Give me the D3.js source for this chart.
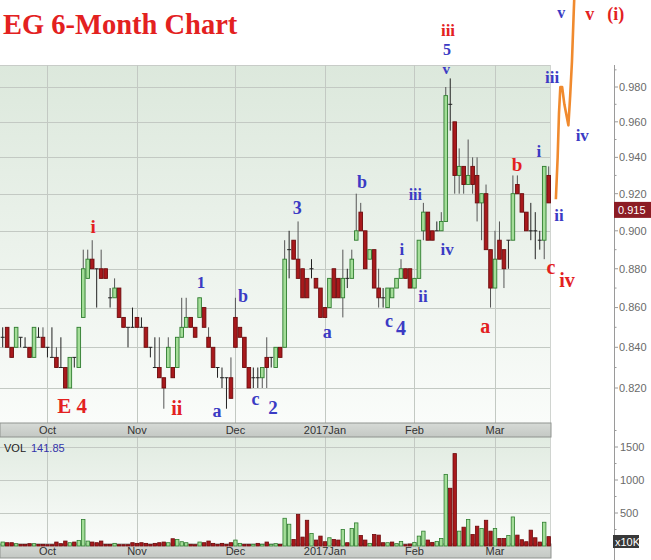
<!DOCTYPE html>
<html><head><meta charset="utf-8">
<script src="https://cdn.jsdelivr.net/npm/d3@7"></script>
<style>body{margin:0;background:#fff;}svg{display:block;}</style>
</head><body>
<svg id="c" width="651" height="560"></svg>
<script>
// ---------------- DATA ----------------
const opens  = [.845,.850,.840,.840,.845,.840,.840,.835,.845,.845,.840,.835,.835,.830,.830,.820,.835,.830,.855,.875,.885,.880,.880,.880,.865,.865,.870,.855,.850,.850,.855,.850,.850,.840,.830,.830,.825,.830,.830,.830,.845,.850,.855,.850,.855,.860,.845,.840,.830,.825,.825,.825,.855,.850,.845,.830,.825,.825,.825,.835,.835,.830,.840,.840,.890,.895,.885,.880,.875,.880,.875,.870,.860,.860,.880,.875,.865,.875,.875,.895,.910,.900,.885,.890,.870,.865,.860,.865,.870,.875,.880,.880,.870,.875,.900,.910,.900,.900,.900,.905,.970,.960,.930,.935,.925,.935,.930,.915,.920,.890,.870,.895,.890,.895,.895,.925,.920,.910,.900,.900,.895,.895,.930];
const highs  = [.850,.850,.840,.850,.845,.845,.840,.850,.850,.850,.840,.850,.840,.845,.830,.835,.835,.850,.890,.890,.895,.880,.890,.880,.870,.875,.870,.855,.850,.860,.855,.855,.850,.840,.845,.845,.825,.845,.830,.845,.865,.865,.855,.850,.865,.860,.850,.840,.830,.830,.825,.835,.865,.850,.845,.830,.830,.830,.830,.845,.835,.840,.840,.895,.900,.895,.905,.880,.875,.885,.875,.870,.860,.875,.880,.875,.890,.880,.890,.920,.915,.900,.890,.890,.880,.870,.870,.870,.875,.885,.880,.880,.875,.895,.915,.910,.900,.905,.910,.980,.985,.960,.945,.935,.950,.940,.940,.920,.925,.890,.900,.905,.890,.895,.930,.930,.920,.910,.915,.910,.900,.935,.935];
const lows   = [.840,.840,.835,.840,.840,.840,.835,.835,.845,.840,.835,.835,.830,.830,.820,.820,.830,.830,.855,.875,.880,.860,.875,.875,.860,.865,.855,.850,.840,.850,.850,.850,.840,.835,.830,.825,.810,.830,.825,.830,.845,.850,.850,.845,.855,.850,.840,.830,.825,.820,.810,.815,.840,.845,.830,.820,.820,.820,.820,.820,.830,.830,.835,.840,.875,.885,.875,.865,.865,.875,.870,.855,.855,.860,.865,.865,.855,.870,.875,.895,.900,.880,.885,.870,.860,.860,.860,.865,.870,.875,.875,.870,.870,.875,.895,.895,.895,.900,.900,.905,.955,.920,.920,.920,.925,.920,.905,.895,.890,.860,.870,.885,.870,.880,.895,.920,.910,.900,.895,.885,.890,.885,.915];
const closes = [.845,.840,.835,.850,.845,.840,.835,.850,.845,.840,.840,.835,.830,.830,.820,.835,.835,.850,.880,.885,.880,.880,.875,.875,.865,.870,.855,.850,.850,.850,.850,.850,.840,.840,.830,.825,.820,.840,.825,.845,.850,.855,.850,.845,.865,.850,.840,.830,.830,.825,.825,.815,.840,.845,.830,.820,.825,.825,.830,.830,.835,.840,.835,.885,.890,.885,.875,.865,.865,.880,.870,.855,.855,.875,.865,.865,.875,.875,.885,.900,.900,.880,.890,.870,.865,.865,.870,.870,.875,.880,.875,.870,.875,.895,.910,.895,.895,.900,.905,.975,.970,.930,.935,.925,.930,.925,.915,.920,.890,.870,.885,.885,.880,.895,.920,.920,.910,.900,.900,.900,.895,.935,.915];
const volumes = [60,50,50,35,25,25,35,35,25,25,20,20,60,35,75,50,60,85,400,75,60,50,75,25,25,40,20,20,20,50,40,50,40,25,40,50,60,50,110,100,65,50,25,20,60,50,75,40,25,40,25,50,90,40,25,25,25,40,25,60,25,35,25,420,330,100,480,135,390,190,90,150,65,125,100,90,250,50,265,350,160,90,40,175,165,50,50,60,35,70,20,30,55,150,225,90,55,70,115,1085,875,1400,225,285,400,175,300,265,390,225,265,115,115,160,440,165,95,65,240,125,60,360,141.85];
const monthLabels = ["Oct","Nov","Dec","2017Jan","Feb","Mar"];
const monthStart  = [10,30,52,72,92,110];
const priceTicks  = [0.82,0.84,0.86,0.88,0.90,0.92,0.94,0.96,0.98];
const volTicks    = [500,1000,1500];
// projected wave path (index, price)
const projIdx   = [123.6,124.0,124.3,124.6,125.0,125.5,126.4,126.8,127.2,127.6,127.7];
const projPrice = [0.917,0.940,0.965,0.980,0.980,0.970,0.958,0.975,0.995,1.025,1.032];
// wave labels
const waveText  = ["i","E 4","ii","1","a","b","c","2","3","a","b","c","4","i","iii","ii","iv","v","5","iii","b","i","a","c","iv","ii","iii","iv","v","v","(i)"];
const waveIdx   = [20.2,15.5,38.9,44.3,47.9,53.7,56.5,60.4,65.8,72.5,80.3,86.3,89.0,89.2,92.2,93.9,99.3,99.1,99.3,99.5,114.9,119.8,107.8,122.5,126.1,124.3,122.75,129.5,124.8,131.2,137.0];
const wavePrice = [0.899,0.808,0.807,0.870,0.806,0.863,0.812,0.8075,0.909,0.8447,0.9232,0.850,0.8462,0.8872,0.9166,0.863,0.8872,0.9876,0.9988,1.0100,0.9325,0.9402,0.8472,0.8773,0.8705,0.9052,0.9823,0.9491,1.0209,1.0197,1.0197];
const waveColor = ["r","r","r","b","b","b","b","b","b","b","b","b","b","b","b","b","b","b","b","r","r","b","r","r","r","b","b","b","b","r","r"];
const waveSize  = [19,21,20,17,18,18,18,19,18,18,18,18,20,17,16,17,17,15,16,17,19,17,20,20,20,17,17,17,16,18,18];

// ---------------- CHART ----------------
const svg = d3.select("#c");
const plotR = 551, pTop = 65, pBot = 423, vTop = 437, vBot = 544;
const x  = d3.scaleLinear().domain([0,122]).range([2.7,548.7]);
const y  = d3.scaleLog().domain([0.82,0.98]).range([388,87]);
const yv = d3.scaleLinear().domain([0,1500]).range([546,447]);
const GREEN_F="#a3dd98", GREEN_S="#2f7d2f", RED_F="#a8191c", RED_S="#6d0b0d";
const RED_T="#e3211f", BLUE_T="#3b3bc4";

const defs = svg.append("defs");
const g1 = defs.append("linearGradient").attr("id","gp").attr("x1",0).attr("x2",0).attr("y1",0).attr("y2",1);
g1.append("stop").attr("offset","0%").attr("stop-color","#dce8dc");
g1.append("stop").attr("offset","100%").attr("stop-color","#fafcfa");
const g2 = defs.append("linearGradient").attr("id","gv").attr("x1",0).attr("x2",0).attr("y1",0).attr("y2",1);
g2.append("stop").attr("offset","0%").attr("stop-color","#e1ebe1");
g2.append("stop").attr("offset","100%").attr("stop-color","#fafcfa");
const g3 = defs.append("linearGradient").attr("id","gb").attr("x1",0).attr("x2",0).attr("y1",0).attr("y2",1);
g3.append("stop").attr("offset","0%").attr("stop-color","#d6dad6");
g3.append("stop").attr("offset","100%").attr("stop-color","#c4c8c4");

// panels
svg.append("rect").attr("x",0).attr("y",pTop).attr("width",plotR).attr("height",pBot-pTop).attr("fill","url(#gp)");
svg.append("rect").attr("x",0).attr("y",vTop).attr("width",plotR).attr("height",vBot-vTop).attr("fill","url(#gv)");
svg.append("line").attr("x1",0).attr("x2",plotR).attr("y1",pTop+0.5).attr("y2",pTop+0.5).attr("stroke","#c8ccc8");

// gridlines
const grid = svg.append("g").attr("stroke","#c3c9c3").attr("stroke-width",1);
priceTicks.forEach(p=>{
  const yy = Math.round(y(p))+0.5;
  grid.append("line").attr("x1",0).attr("x2",plotR).attr("y1",yy).attr("y2",yy);
});
volTicks.forEach(v=>{
  const yy = Math.round(yv(v))+0.5;
  grid.append("line").attr("x1",0).attr("x2",plotR).attr("y1",yy).attr("y2",yy);
});
monthStart.forEach(i=>{
  const xx = Math.round(x(i))+0.5;
  grid.append("line").attr("x1",xx).attr("x2",xx).attr("y1",pTop).attr("y2",pBot);
  grid.append("line").attr("x1",xx).attr("x2",xx).attr("y1",vTop).attr("y2",vBot);
});
svg.append("line").attr("x1",plotR-0.5).attr("x2",plotR-0.5).attr("y1",pTop).attr("y2",vBot).attr("stroke","#d0d4d0");

// month bands
[pBot, vBot].forEach(top=>{
  svg.append("rect").attr("x",0).attr("y",top).attr("width",plotR).attr("height",14)
    .attr("fill","url(#gb)").attr("stroke","#8f938f").attr("stroke-width",1);
  monthLabels.forEach((m,k)=>{
    svg.append("text").attr("x",x(monthStart[k])).attr("y",top+11).attr("text-anchor","middle")
      .attr("font-family","Liberation Sans, Arial, sans-serif").attr("font-size",11).attr("fill","#333").text(m);
  });
});

// candles
const cg = svg.append("g");
closes.forEach((c,i)=>{
  const o=opens[i], h=highs[i], l=lows[i], cx=x(i);
  const doji = o===c;
  cg.append("line").attr("x1",cx).attr("x2",cx).attr("y1",y(h)).attr("y2",y(l))
    .attr("stroke", doji ? "#222" : "#555").attr("stroke-width",1);
  if(doji){
    cg.append("line").attr("x1",cx-2).attr("x2",cx+2).attr("y1",y(o)).attr("y2",y(o)).attr("stroke","#222").attr("stroke-width",1);
  } else {
    const up = c>o;
    const top = y(Math.max(o,c)), bot = y(Math.min(o,c));
    cg.append("rect").attr("x",cx-1.8).attr("y",top).attr("width",3.6).attr("height",Math.max(1,bot-top))
      .attr("fill", up?GREEN_F:RED_F).attr("stroke", up?GREEN_S:RED_S).attr("stroke-width",0.9);
  }
});

// volume bars
const vg = svg.append("g");
volumes.forEach((v,i)=>{
  const up = i===0 ? closes[i]>=opens[i] : closes[i]>closes[i-1];
  const top = yv(v);
  vg.append("rect").attr("x",x(i)-1.7).attr("y",top).attr("width",3.4).attr("height",Math.max(0.8,yv(0)-top))
    .attr("fill", up?GREEN_F:RED_F).attr("stroke", up?GREEN_S:RED_S).attr("stroke-width",0.8);
});
svg.append("text").attr("x",4).attr("y",452).attr("font-family","Liberation Sans, Arial, sans-serif")
  .attr("font-size",11).attr("fill","#222").text("VOL");
svg.append("text").attr("x",31).attr("y",452).attr("font-family","Liberation Sans, Arial, sans-serif")
  .attr("font-size",11).attr("fill","#3333aa").text(d3.format(".2f")(volumes[volumes.length-1]));

// right axis
const axX = 614;
svg.append("line").attr("x1",axX+0.5).attr("x2",axX+0.5).attr("y1",pTop).attr("y2",560).attr("stroke","#9a9a9a");
d3.range(0.815,0.9951,0.005).forEach(p=>{
  const major = priceTicks.some(t=>Math.abs(t-p)<1e-6);
  const minor10 = Math.round(p*1000)%10===0;
  if(!major && !minor10) return;
  svg.append("line").attr("x1",axX).attr("x2",axX+(major?4:2.5)).attr("y1",y(p)).attr("y2",y(p)).attr("stroke","#9a9a9a");
});
priceTicks.forEach(p=>{
  svg.append("text").attr("x",619).attr("y",y(p)).attr("dy","0.35em")
    .attr("font-family","Liberation Sans, Arial, sans-serif").attr("font-size",11).attr("fill","#6a6a6a")
    .text(d3.format(".3f")(p));
});
[250,500,750,1000,1250,1500,1750].forEach(v=>{
  const major = volTicks.includes(v);
  svg.append("line").attr("x1",axX).attr("x2",axX+(major?4:2.5)).attr("y1",yv(v)).attr("y2",yv(v)).attr("stroke","#9a9a9a");
});
volTicks.forEach(v=>{
  svg.append("text").attr("x",620).attr("y",yv(v)).attr("dy","0.35em")
    .attr("font-family","Liberation Sans, Arial, sans-serif").attr("font-size",11).attr("fill","#6a6a6a").text(v);
});
svg.append("rect").attr("x",613).attr("y",535).attr("width",26).attr("height",13).attr("fill","#383838");
svg.append("text").attr("x",615).attr("y",545.5).attr("font-family","Liberation Sans, Arial, sans-serif")
  .attr("font-size",11).attr("fill","#fff").text("x10K");
const last = closes[closes.length-1];
svg.append("rect").attr("x",614).attr("y",y(last)-1).attr("width",37).attr("height",16).attr("fill","#8c1c24");
svg.append("text").attr("x",618).attr("y",y(last)+11).attr("font-family","Liberation Sans, Arial, sans-serif")
  .attr("font-size",11).attr("fill","#fff").text(d3.format(".3f")(last));

// projection line
const proj = projIdx.map((d,k)=>[x(d), y(projPrice[k])]);
svg.append("path").attr("d", d3.line()(proj)).attr("fill","none").attr("stroke","#f08a2e").attr("stroke-width",2.6)
  .attr("stroke-linejoin","round");

// wave labels
waveText.forEach((t,k)=>{
  svg.append("text").attr("x",x(waveIdx[k])).attr("y",y(wavePrice[k])).attr("text-anchor","middle")
    .attr("font-family","Liberation Serif, 'Times New Roman', serif").attr("font-weight","bold")
    .attr("font-size",waveSize[k]).attr("fill", waveColor[k]==="r"?RED_T:BLUE_T).text(t);
});

// title
svg.append("text").attr("x",3).attr("y",34).attr("font-family","Liberation Serif, 'Times New Roman', serif")
  .attr("font-weight","bold").attr("font-size",28.5).attr("fill","#e3211f").text("EG 6-Month Chart");
</script>
</body></html>
